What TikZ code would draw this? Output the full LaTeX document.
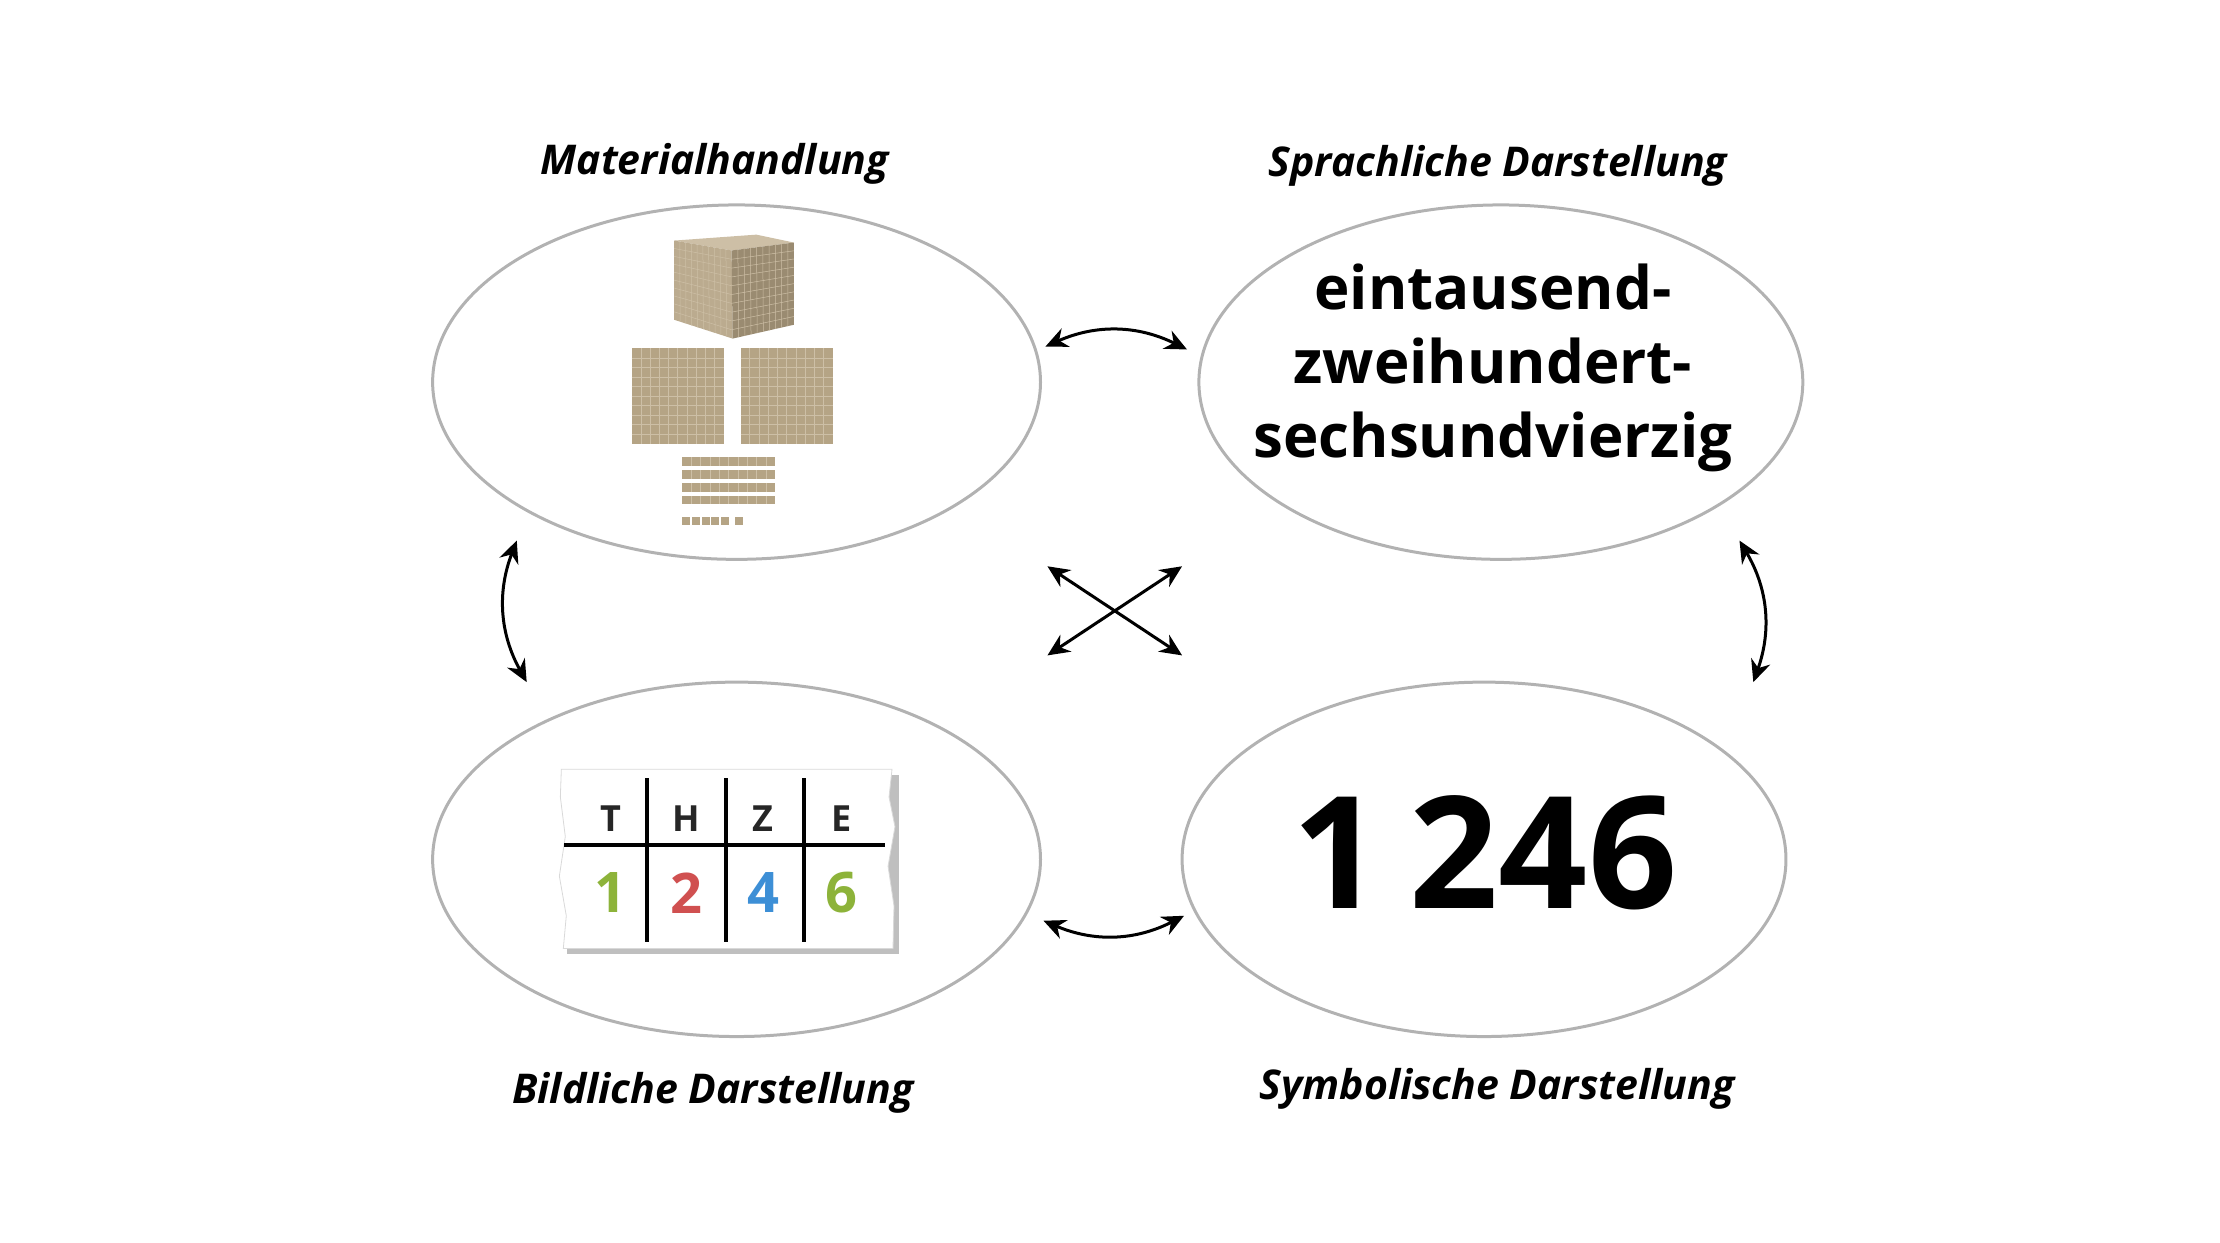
\documentclass[tikz,border=0pt]{standalone}
\usepackage{fontspec}
\setmainfont{Open Sans}
\usetikzlibrary{arrows.meta}
\definecolor{cTan}{HTML}{B5A485}
\definecolor{cTanL}{HTML}{CDBFA6}
\definecolor{cGreen}{HTML}{8DB33A}
\definecolor{cRed}{HTML}{D05050}
\definecolor{cBlue}{HTML}{3D8FD6}
\tikzset{
  oval/.style={draw=black!30,line width=1.5pt},
  caption/.style={font=\fontsize{20.5}{24}\selectfont\bfseries\itshape},
  twoway/.style={line width=1.5pt,{Stealth[length=11pt,width=10pt]}-{Stealth[length=11pt,width=10pt]}},
  tan/.style={fill=cTan,draw=none},
  grid/.style={draw=cTanL,line width=0.25pt}
}
\begin{document}
\begin{tikzpicture}[x=0.5pt,y=-0.5pt]
\useasboundingbox (0,0) rectangle (2220,1242);
\begin{scope}[scale=0.99]
% die vier Ovale
\draw[oval] (744,386) ellipse [x radius=307,y radius=179];
\draw[oval] (1516,386) ellipse [x radius=305,y radius=179];
\draw[oval] (744,868) ellipse [x radius=307,y radius=179];
\draw[oval] (1499,868) ellipse [x radius=305,y radius=179];

\node[caption] (nMat) at (722,166) {Materialhandlung};
\node[caption] (nSpr) at (1513,168) {Sprachliche Darstellung};
\node[caption] (nBil) at (720,1104) {Bildliche Darstellung};
\node[caption] (nSym) at (1512,1100) {Symbolische Darstellung};

\node[align=center,font=\fontsize{30}{37}\selectfont\bfseries] (nWort) at (1508,372)
  {eintausend-\\zweihundert-\\sechsundvierzig};
\node[font=\fontsize{78}{80}\selectfont\bfseries] (nZahl) at (1500,861) {1\hspace{0.18em}246};

\begin{scope}[shift={(7,5)}]
% Würfel
\fill[cTanL] (674,238) -- (757,232) -- (795,240) -- (732,248) -- cycle;
\fill[cTan!92!white] (674,238) -- (732,248) -- (733,337) -- (674,318) -- cycle;
\fill[cTan!85!black] (732,248) -- (795,240) -- (795,323) -- (733,337) -- cycle;
\foreach \i in {1,...,9}
{
  \draw[grid] ({674+5.8*\i},{238+1*\i}) -- ({674+5.9*\i},{318+1.9*\i});
  \draw[grid] ({732+6.3*\i},{248-0.8*\i}) -- ({733+6.2*\i},{337-1.4*\i});
  \draw[grid] (674,{238+8*\i}) -- (732,{248+8.9*\i});
  \draw[grid] (732,{248+8.9*\i}) -- (795,{240+8.3*\i});
};
% Hunderterplatten
\foreach \x in {631,741}
{
  \fill[tan] (\x,347) rectangle ++(93,96);
  \foreach \i in {1,...,9}
  {
    \draw[grid] ({\x+9.3*\i},347) -- ++(0,96);
    \draw[grid] (\x,{347+9.6*\i}) -- ++(93,0);
  };
};
% Zehnerstangen
\foreach \y in {457,470,483,496}
{
  \fill[tan] (682,\y) rectangle ++(94,8.5);
  \foreach \i in {1,...,9}
    \draw[grid] ({682+9.4*\i},\y) -- ++(0,8.5);
};
% Einerwürfel
\foreach \x in {682,692,702,711,721,735}
  \fill[tan] (\x,517) rectangle ++(8,8);

% Stellenwerttafel
\fill[black!25] (566,778) rectangle (901,959);
\fill[white,draw=black!15] (560,772) -- (894,772) -- (891,800) -- (897,830) -- (890,870)
  -- (896,910) -- (895,953) -- (562,953) -- (565,920) -- (558,880) -- (564,840) -- (559,800) -- cycle;
\draw[line width=2pt] (563,849) -- (887,849);
\foreach \x in {647,726,805}
  \draw[line width=2pt] (\x,781) -- (\x,946);
\foreach \x/\h/\z/\c in {610/T/1/cGreen,686/H/2/cRed,764/Z/4/cBlue,843/E/6/cGreen}
{
  \node[font=\fontsize{18}{20}\selectfont\bfseries,text=black!85] at (\x,822) {\h};
  \node[font=\fontsize{28}{30}\selectfont\bfseries,text=\c] at (\x,897) {\z};
};
\end{scope}

% Pfeile
\coordinate (cA1) at (1056,350);
\coordinate (cA2) at (1199,353);
\coordinate (cB1) at (1054,930);
\coordinate (cB2) at (1196,925);
\coordinate (cC1) at (522,546);
\coordinate (cC2) at (532,689);
\coordinate (cD1) at (1757,546);
\coordinate (cD2) at (1771,689);
\coordinate (cE1) at (1058,572);
\coordinate (cE2) at (1194,662);
\coordinate (cF1) at (1194,572);
\coordinate (cF2) at (1058,662);

\draw[twoway] (cA1) to[bend left=25] (cA2);
\draw[twoway] (cB1) to[bend right=25] (cB2);
\draw[twoway] (cC1) to[bend right=25] (cC2);
\draw[twoway] (cD1) to[bend left=25] (cD2);
\draw[twoway] (cE1) -- (cE2);
\draw[twoway] (cF1) -- (cF2);
\end{scope}
\end{tikzpicture}
\end{document}
